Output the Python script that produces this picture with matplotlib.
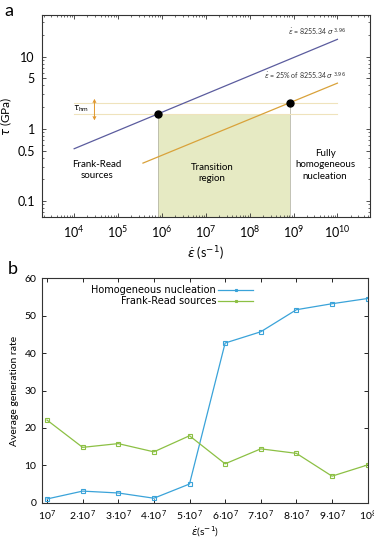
import matplotlib
matplotlib.use("Agg")
import matplotlib.pyplot as plt
import numpy as np

plt.rcParams['font.family'] = ['Lato', 'DejaVu Sans']
plt.rcParams['mathtext.fontset'] = 'custom'
plt.rcParams['mathtext.rm'] = 'Lato'
plt.rcParams['mathtext.it'] = 'Lato:italic'
plt.rcParams['mathtext.bf'] = 'Lato:bold'

# ---- panel a data ----
blue_x = [1e4, 1e10]
blue_y = [0.53, 17.4]
orange_x = [3.7e5, 1e10]
orange_y = [0.335, 4.3]
dots_x = [8.2e5, 8.2e8]
dots_y = [1.6, 2.29]
hline_x = [1e4, 1e10]
region_x = [8.2e5, 8.2e8]
region_top = 1.6
a_xticks = [1e4, 1e5, 1e6, 1e7, 1e8, 1e9, 1e10]
a_xticklabels = ['$10^{4}$', '$10^{5}$', '$10^{6}$', '$10^{7}$', '$10^{8}$', '$10^{9}$', '$10^{10}$']
a_yticks = [0.1, 0.5, 1, 5, 10]
a_yticklabels = ['0.1', '0.5', '1', '5', '10']

# ---- panel b data ----
b_x = [1e7, 2e7, 3e7, 4e7, 5e7, 6e7, 7e7, 8e7, 9e7, 1e8]
homog = [1.0, 3.1, 2.6, 1.2, 5.0, 42.7, 45.7, 51.6, 53.2, 54.6]
frank = [22.1, 14.8, 15.8, 13.6, 17.9, 10.4, 14.4, 13.2, 7.1, 10.1]
b_xticklabels = ['$10^7$', r'$2{\cdot}10^7$', r'$3{\cdot}10^7$', r'$4{\cdot}10^7$', r'$5{\cdot}10^7$',
                 r'$6{\cdot}10^7$', r'$7{\cdot}10^7$', r'$8{\cdot}10^7$', r'$9{\cdot}10^7$', '$10^8$']
b_yticks = [0, 10, 20, 30, 40, 50, 60]

fig = plt.figure(figsize=(3.74, 5.38), dpi=100)

# ---------------- Panel a ----------------
ax = fig.add_axes([0.1115, 0.5967, 0.8775, 0.3755])
ax.set_xscale('log')
ax.set_yscale('log')
ax.set_xlim(10**3.26, 10**10.74)
ax.set_ylim(0.06, 37.9)

ax.fill_between(region_x, [0.06, 0.06], [region_top, region_top], color='#e6eac3', zorder=1, lw=0)
ax.plot([region_x[0], region_x[0]], [0.06, region_top], color='#b8b8a8', lw=0.6, zorder=2)
ax.plot([region_x[1], region_x[1]], [0.06, dots_y[1]], color='#b8b8a8', lw=0.6, zorder=2)
for yv in dots_y:
    ax.plot(hline_x, [yv, yv], color='#efe3bc', lw=0.8, zorder=2)
ax.plot(blue_x, blue_y, color='#5b5c9e', lw=0.9, zorder=3)
ax.plot(orange_x, orange_y, color='#d9a23a', lw=0.9, zorder=3)
ax.plot(dots_x, dots_y, 'o', color='black', ms=5, zorder=4)

ax.annotate('', xy=(2.9e4, 2.85), xytext=(2.9e4, 1.2),
            arrowprops=dict(arrowstyle='<->', color='#e0962a', lw=0.7, mutation_scale=5))
ax.text(1.4e4, 1.9, r'$\tau_{\rm hm}$', fontsize=6, ha='center', va='center',
        family='DejaVu Sans', math_fontfamily='dejavusans')

ax.text(1.55e10, 22, r'$\dot{\varepsilon}$ = 8255.34 $\sigma^{\ 3.96}$', fontsize=5, ha='right', va='center',
        color='#333333', math_fontfamily='dejavusans')
ax.text(1.55e10, 5.5, r'$\dot{\varepsilon}$ = 25% of 8255.34 $\sigma^{\ 3.96}$', fontsize=5, ha='right', va='center',
        color='#333333', math_fontfamily='dejavusans')

ax.text(10**4.52, 0.27, 'Frank-Read\nsources', fontsize=7, ha='center', va='center', linespacing=1.35)
ax.text(10**7.14, 0.245, 'Transition\nregion', fontsize=7, ha='center', va='center', linespacing=1.35)
ax.text(10**9.72, 0.316, 'Fully\nhomogeneous\nnucleation', fontsize=7, ha='center', va='center', linespacing=1.35)

ax.set_xticks(a_xticks)
ax.set_xticklabels(a_xticklabels)
ax.set_yticks(a_yticks)
ax.set_yticklabels(a_yticklabels)
ax.tick_params(which='both', direction='in', top=True, right=True, labelsize=9, colors='#333333', labelcolor='black')
ax.tick_params(which='major', length=3, width=0.6, pad=5)
ax.tick_params(which='minor', length=1.5, width=0.5)
for s in ax.spines.values():
    s.set_linewidth(0.8)
    s.set_color('#333333')
ax.set_xlabel(r'$\dot{\varepsilon}$ (s$^{-1}$)', fontsize=9, labelpad=3, math_fontfamily='dejavusans')
ax.set_ylabel(r'$\tau$ (GPa)', fontsize=8.5, math_fontfamily='dejavusans')
ax.yaxis.set_label_coords(-0.083, 0.5)
fig.text(0.013, 0.995, 'a', fontsize=13, ha='left', va='top')

# ---------------- Panel b ----------------
bx = fig.add_axes([0.1123, 0.0656, 0.8707, 0.4171])
bx.plot(b_x, homog, color='#3aa3d9', lw=0.9, marker='s', ms=3.2, mfc='none', mec='#3aa3d9', mew=0.8,
        label='Homogeneous nucleation')
bx.plot(b_x, frank, color='#8cc044', lw=0.9, marker='s', ms=3.2, mfc='none', mec='#8cc044', mew=0.8,
        label='Frank-Read sources')
bx.set_xlim(0.86e7, 1e8)
bx.set_ylim(0, 60)
bx.set_xticks(b_x)
bx.set_xticklabels(b_xticklabels)
bx.set_yticks(b_yticks)
bx.tick_params(direction='in', top=True, right=True, length=3, width=0.6, labelsize=7.5, pad=4)
for s in bx.spines.values():
    s.set_linewidth(0.8)
    s.set_color('#333333')
leg = bx.legend(loc='upper center', bbox_to_anchor=(0.40, 1.0), frameon=False, markerfirst=False,
                handlelength=3.6, handletextpad=0.2, borderaxespad=0.3, labelspacing=0.1,
                markerscale=0.6, prop={'family': 'DejaVu Sans', 'size': 7})
bx.set_xlabel(r'$\dot{\varepsilon}$(s$^{-1}$)', fontsize=7.5, labelpad=1, math_fontfamily='dejavusans')
bx.set_ylabel('Average generation rate', fontsize=7.5, labelpad=4)
fig.text(0.02, 0.515, 'b', fontsize=13, ha='left', va='top')

fig.savefig('out.png', dpi=100)
